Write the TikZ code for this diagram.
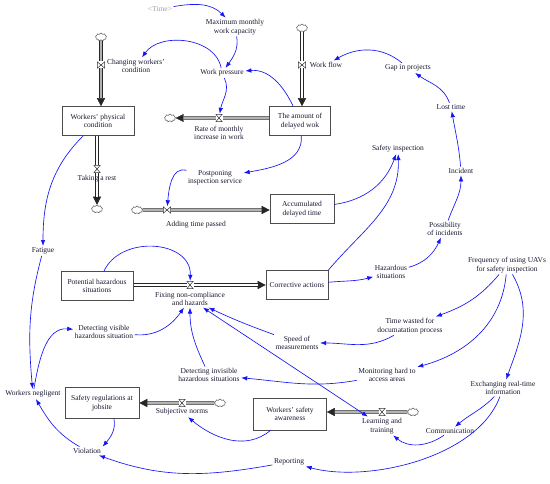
\documentclass[tikz,border=0pt]{standalone}
\usepackage{fontspec}
\setmainfont{Liberation Serif}
\usetikzlibrary{arrows.meta,shapes.symbols,backgrounds}
\definecolor{ink}{HTML}{1A1A33}
\definecolor{linkblue}{HTML}{1414F5}
\tikzset{
  every node/.style={font=\fontsize{7.5}{8.5}\selectfont,text=ink},
  var/.style={align=center,inner sep=1.5pt},
  stock/.style={draw=black!70,fill=white,line width=0.6pt,align=center,minimum height=29pt,inner sep=2pt},
  cloudnode/.style={cloud,cloud puffs=9,aspect=1.4,draw=black!70,fill=white,line width=0.5pt,minimum width=11pt,minimum height=8pt,inner sep=0pt},
  valveh/.style={fill=white,minimum width=7pt,minimum height=8pt,inner sep=0pt,
    path picture={\draw[black!80,line width=0.5pt]
      ([shift={(0.4pt,-0.4pt)}]path picture bounding box.north west) -- ([shift={(-0.4pt,-0.4pt)}]path picture bounding box.north east)
      -- ([shift={(0.4pt,0.4pt)}]path picture bounding box.south west) -- ([shift={(-0.4pt,0.4pt)}]path picture bounding box.south east) -- cycle;}},
  valvev/.style={fill=white,minimum width=8pt,minimum height=7pt,inner sep=0pt,
    path picture={\draw[black!80,line width=0.5pt]
      ([shift={(0.4pt,-0.4pt)}]path picture bounding box.north west) -- ([shift={(0.4pt,0.4pt)}]path picture bounding box.south west)
      -- ([shift={(-0.4pt,-0.4pt)}]path picture bounding box.north east) -- ([shift={(-0.4pt,0.4pt)}]path picture bounding box.south east) -- cycle;}},
  pipe/.style={draw=black!85,line width=3.4pt,-{Triangle[length=8pt,width=8pt,line width=0.4pt]},
    postaction={draw=white,line width=1.4pt,shorten >=8pt,-}},
  graypipe/.style={draw=black!85,line width=3.4pt,-{Triangle[length=8pt,width=8pt,line width=0.4pt]},
    postaction={draw=gray!60,line width=1.6pt,shorten >=8pt,-}},
  link/.style={draw=linkblue,line width=0.65pt,-{Latex[length=6pt,width=4.5pt]}}
}
\begin{document}
\begin{tikzpicture}[x=1pt,y=1pt]
  \useasboundingbox (0,0) rectangle (550,-484);
  % stocks
  \node[stock,minimum width=72pt] (wpc) at (98,-121) {Workers' physical\\condition};
  \node[stock,minimum width=61pt] (adw) at (300,-121) {The amount of\\delayed wok};
  \node[stock,minimum width=64pt] (adt) at (302,-209) {Accumulated\\delayed time};
  \node[stock,minimum width=72pt] (phs) at (97,-286) {Potential hazardous\\situations};
  \node[stock,minimum width=62pt] (ca) at (297,-285) {Corrective actions};
  \node[stock,minimum width=74pt,minimum height=31pt] (srj) at (102,-403) {Safety regulations at\\jobsite};
  \node[stock,minimum width=73pt,minimum height=32pt] (wsa) at (290,-414) {Workers' safety\\awareness};
  % clouds
  \node[cloudnode] (c1) at (101,-37) {};
  \node[cloudnode] (c2) at (97,-209) {};
  \node[cloudnode] (c3) at (170,-118) {};
  \node[cloudnode] (c4) at (302,-28) {};
  \node[cloudnode] (c5) at (137,-210) {};
  \node[cloudnode] (c6) at (220,-403) {};
  \node[cloudnode] (c7) at (413,-412) {};
  % valves
  \node[valvev] (v1) at (101,-65) {};
  \node[valveh] (v2) at (97,-169) {};
  \node[valveh] (v3) at (219,-118) {};
  \node[valvev] (v4) at (302,-65) {};
  \node[valvev] (v5) at (167,-210) {};
  \node[valveh] (v6) at (190,-285) {};
  \node[valveh] (v7) at (182,-403) {};
  \node[valveh] (v8) at (382,-412) {};
  % flow labels
  \node[var] (cwcl) at (136,-66) {Changing workers'\\condition};
  \node[var] (tarl) at (97,-179) {Taking a rest};
  \node[var] (rmil) at (219,-133) {Rate of monthly\\increase in work};
  \node[var] (wfl) at (326,-65) {Work flow};
  \node[var] (atpl) at (196,-225) {Adding time passed};
  \node[var] (fixl) at (190,-299) {Fixing non-compliance\\and hazards};
  \node[var] (snl) at (182,-412) {Subjective norms};
  \node[var] (latl) at (382,-426) {Learning and\\training};
  % auxiliaries
  \node[var,text=gray!75] (time) at (160,-9) {<Time>};
  \node[var] (mmc) at (235,-27) {Maximum monthly\\work capacity};
  \node[var] (wp) at (222,-73) {Work pressure};
  \node[var] (gip) at (408,-68) {Gap in projects};
  \node[var] (lt) at (451,-107) {Lost time};
  \node[var] (si) at (398,-149) {Safety inspection};
  \node[var] (inc) at (461,-171) {Incident};
  \node[var] (poi) at (445,-229) {Possibility\\of incidents};
  \node[var] (hs) at (391,-272) {Hazardous\\situations};
  \node[var] (fre) at (507,-265) {Frequency of using UAVs\\for safety inspection};
  \node[var] (pis) at (215,-178) {Postponing\\inspection service};
  \node[var] (fat) at (43,-251) {Fatigue};
  \node[var] (dvh) at (104,-332) {Detecting visible\\hazardous situation};
  \node[var] (dih) at (209,-375) {Detecting invisible\\hazardous situations};
  \node[var] (wn) at (33,-394) {Workers negligent};
  \node[var] (vio) at (87,-451) {Violation};
  \node[var] (tw) at (410,-326) {Time wasted for\\documatation process};
  \node[var] (sm) at (297,-343) {Speed of\\measurements};
  \node[var] (mha) at (387,-375) {Monitoring hard to\\access areas};
  \node[var] (ert) at (503,-388) {Exchanging real-time\\information};
  \node[var] (com) at (450,-431) {Communication};
  \node[var] (rep) at (289,-462) {Reporting};
  % pipes
  \begin{scope}[on background layer]
    \fill[white] (0,0) rectangle (550,-484);
    \draw[graypipe] (c1) -- (v1.center) -- (v1 |- wpc.north);
    \draw[pipe] (v2 |- wpc.south) -- (v2.center) -- (c2);
    \draw[pipe] (adw.west |- v3) -- (v3.center) -- (c3);
    \draw[pipe] (c4) -- (v4.center) -- (v4 |- adw.north);
    \draw[pipe] (c5) -- (v5.center) -- (v5 -| adt.west);
    \draw[pipe] (phs.east |- v6) -- (v6.center) -- (v6 -| ca.west);
    \draw[pipe] (c6) -- (v7.center) -- (v7 -| srj.east);
    \draw[pipe] (c7) -- (v8.center) -- (v8 -| wsa.east);
  \end{scope}
  % links
  \draw[link] (time) to[out=10,in=135] (mmc);
  \draw[link] (mmc) to[out=-80,in=55] (wp);
  \draw[link] (wp) to[out=100,in=55] (cwcl);
  \draw[link] (wp) to[out=-65,in=80] (v3);
  \draw[link] (adw) to[out=115,in=5] (wp);
  \draw[link] (adw) to[out=-85,in=10] (pis);
  \draw[link] (pis) to[out=165,in=85] (v5);
  \draw[link] (wpc) to[out=-135,in=90] (fat);
  \draw[link] (fat) to[out=-105,in=95] (wn);
  \draw[link] (gip) to[out=140,in=30] (wfl);
  \draw[link] (lt) to[out=110,in=-35] (gip);
  \draw[link] (inc) to[out=95,in=-80] (lt);
  \draw[link] (poi) to[out=70,in=-90] (inc);
  \draw[link] (hs) to[out=15,in=-115] (poi);
  \draw[link] (ca) to[out=5,in=195] (hs);
  \draw[link] (ca.north east) to[out=50,in=-88] (si);
  \draw[link] (adt) to[out=8,in=-110] (si);
  \draw[link] (phs) to[out=65,in=88,looseness=1.2] (v6);
  \draw[link] (fre) to[out=-130,in=20] (tw);
  \draw[link] (fre) to[out=-95,in=15] (mha);
  \draw[link] (fre) to[out=-60,in=70] (ert);
  \draw[link] (tw) to[out=-150,in=0] (sm);
  \draw[link] (sm) to[out=160,in=-25] (fixl);
  \draw[link,{Latex[length=6pt,width=4.5pt]}-{Latex[length=6pt,width=4.5pt]}] (fixl) -- (latl);
  \draw[link] (mha) to[out=-170,in=-5] (dih);
  \draw[link] (dih) to[out=115,in=-90] (fixl);
  \draw[link] (dvh) to[out=-5,in=-125] (fixl);
  \draw[link] (wn) to[out=80,in=175] (dvh);
  \draw[link] (vio) to[out=150,in=-60] (wn);
  \draw[link] ([xshift=12pt]srj.south) to[out=-80,in=50] (vio.north east);
  \draw[link] (wsa) to[out=-140,in=-40] (snl);
  \draw[link] (ert) to[out=-135,in=40] (com);
  \draw[link] (ert) to[out=-110,in=-15,looseness=0.8] (rep);
  \draw[link] (com) to[out=-145,in=-40] (latl);
  \draw[link] (rep) to[out=-170,in=-20] (vio);
\end{tikzpicture}
\end{document}
